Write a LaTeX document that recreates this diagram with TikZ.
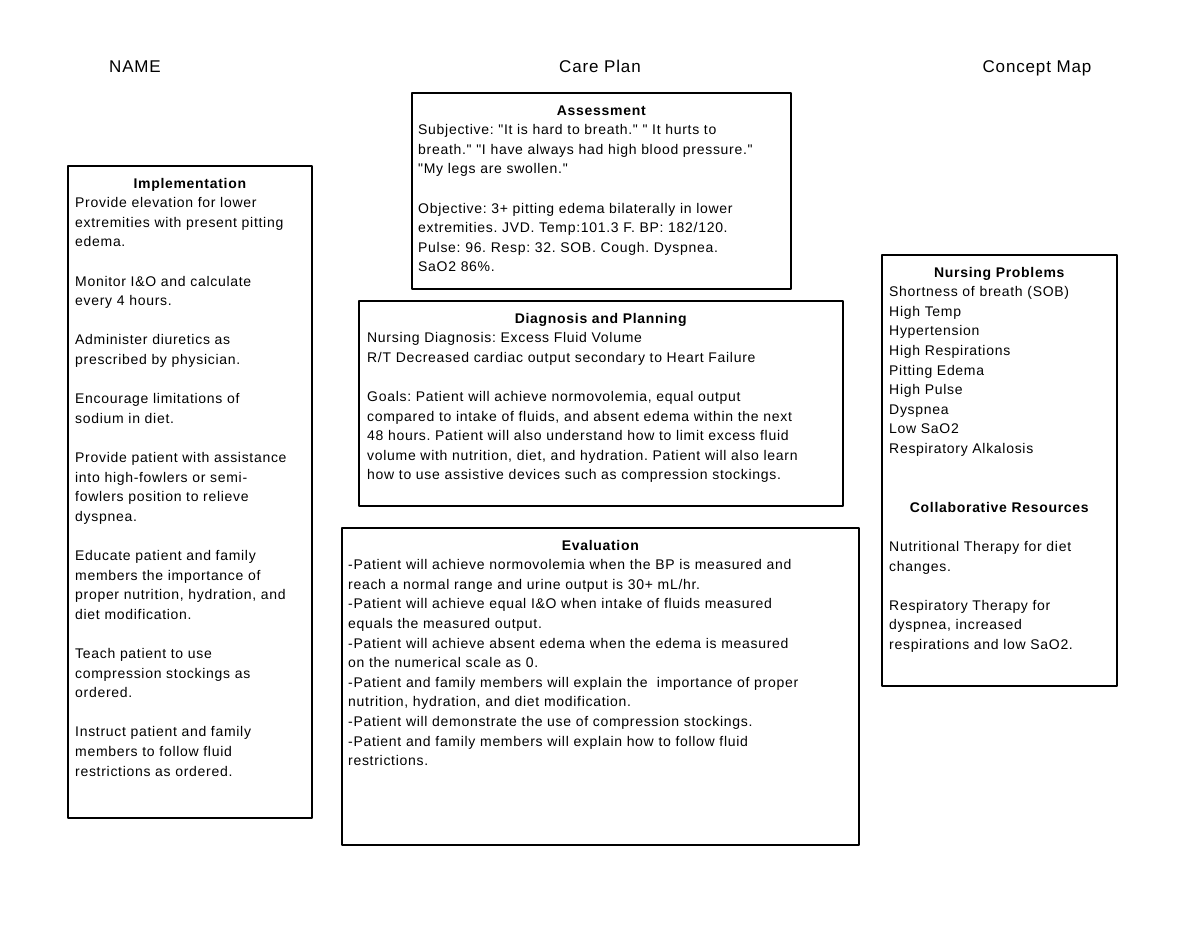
\documentclass[tikz,border=0pt]{standalone}
\usepackage{fontspec}
\setmainfont{Liberation Sans}[LetterSpace=5, Ligatures=TeXOff]
\usetikzlibrary{positioning}
\newcommand\cpfont{\fontsize{14}{19.6}\selectfont\frenchspacing}
\newcommand\gap{\\[19.6pt]}

\begin{document}
\begin{tikzpicture}[x=1pt, y=-1pt, line join=round,
	box/.style={draw, line width=1.6pt, anchor=north west, inner sep=0pt},
	head/.style={anchor=base, inner sep=0pt, font=\fontsize{17}{20}\selectfont},
	title/.style={anchor=base, inner sep=0pt, font=\cpfont\bfseries},
	body/.style={anchor=base west, inner sep=0pt, align=left, font=\cpfont}]
	\useasboundingbox (0,0) rectangle (1200,927);
	% page heading
	\node[head] (name) at (135,72) {NAME};
	\node[head] (plan) at (600,72) {Care Plan};
	\node[head] (cmap) at (1037,72) {Concept Map};
	% the five boxes
	\foreach \n/\x/\y/\w/\h in {assess/411/92/379/196, diag/358/300/484/205, eval/341/527/517/317, impl/67/165/244/652, probs/881/254/235/431}
		\node[box, minimum width=\w, minimum height=\h] (\n) at (\x,\y) {};
	% titles
	\foreach \n/\t in {assess/Assessment, diag/Diagnosis and Planning, eval/Evaluation, impl/Implementation, probs/Nursing Problems}
		\node[title] (\n-t) at ([yshift=-23pt]\n.north) {\t};
	\node[title] (res-t) at ([yshift=-258.2pt]probs.north) {Collaborative Resources};
	% texts
	\node[body, text width=370] (assess-b) at ([xshift=7pt, yshift=-42.6pt]assess.north west)
		{Subjective: "It is hard to breath." " It hurts to\\
		breath." "I have always had high blood pressure."\\
		"My legs are swollen."\gap
		Objective: 3+ pitting edema bilaterally in lower\\
		extremities. JVD. Temp:101.3 F. BP: 182/120.\\
		Pulse: 96. Resp: 32. SOB. Cough. Dyspnea.\\
		SaO2 86\%.};
	\node[body, text width=472] (diag-b) at ([xshift=9pt, yshift=-42.6pt]diag.north west)
		{Nursing Diagnosis: Excess Fluid Volume\\
		R/T Decreased cardiac output secondary to Heart Failure\gap
		Goals: Patient will achieve normovolemia, equal output\\
		compared to intake of fluids, and absent edema within the next\\
		48 hours. Patient will also understand how to limit excess fluid\\
		volume with nutrition, diet, and hydration. Patient will also learn\\
		how to use assistive devices such as compression stockings.};
	\node[body, text width=508] (eval-b) at ([xshift=7pt, yshift=-42.6pt]eval.north west)
		{-Patient will achieve normovolemia when the BP is measured and\\
		reach a normal range and urine output is 30+ mL/hr.\\
		-Patient will achieve equal I\&O when intake of fluids measured\\
		equals the measured output.\\
		-Patient will achieve absent edema when the edema is measured\\
		on the numerical scale as 0.\\
		-Patient and family members will explain the\ \ importance of proper\\
		nutrition, hydration, and diet modification.\\
		-Patient will demonstrate the use of compression stockings.\\
		-Patient and family members will explain how to follow fluid\\
		restrictions.};
	\node[body, text width=234] (impl-b) at ([xshift=8pt, yshift=-42.6pt]impl.north west)
		{Provide elevation for lower\\
		extremities with present pitting\\
		edema.\gap
		Monitor I\&O and calculate\\
		every 4 hours.\gap
		Administer diuretics as\\
		prescribed by physician.\gap
		Encourage limitations of\\
		sodium in diet.\gap
		Provide patient with assistance\\
		into high-fowlers or semi-\\
		fowlers position to relieve\\
		dyspnea.\gap
		Educate patient and family\\
		members the importance of\\
		proper nutrition, hydration, and\\
		diet modification.\gap
		Teach patient to use\\
		compression stockings as\\
		ordered.\gap
		Instruct patient and family\\
		members to follow fluid\\
		restrictions as ordered.};
	\node[body, text width=225] (probs-b) at ([xshift=8pt, yshift=-42.6pt]probs.north west)
		{Shortness of breath (SOB)\\
		High Temp\\
		Hypertension\\
		High Respirations\\
		Pitting Edema\\
		High Pulse\\
		Dyspnea\\
		Low SaO2\\
		Respiratory Alkalosis};
	\node[body, text width=225] (res-b) at ([xshift=8pt, yshift=-297.4pt]probs.north west)
		{Nutritional Therapy for diet\\
		changes.\gap
		Respiratory Therapy for\\
		dyspnea, increased\\
		respirations and low SaO2.};
\end{tikzpicture}
\end{document}
